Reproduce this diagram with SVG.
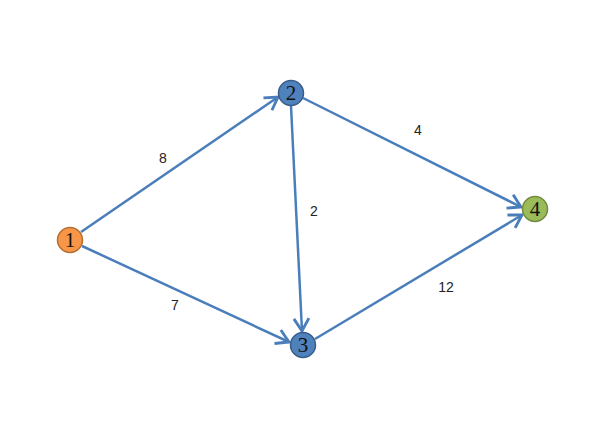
<svg xmlns="http://www.w3.org/2000/svg" width="606" height="429" viewBox="0 0 606 429">
<defs>
<marker id="arr" markerUnits="userSpaceOnUse" markerWidth="20" markerHeight="20" viewBox="-12 -8 14 16" refX="0" refY="0" orient="auto">
<path d="M-10,-6 L0,0 L-10,6" fill="none" stroke="#4a7ebb" stroke-width="2.3" stroke-linejoin="miter"/>
</marker>
</defs>
<style>
.e{stroke:#4a7ebb;stroke-width:2.5;fill:none;marker-end:url(#arr)}
.el{font-family:"Liberation Sans",Arial,sans-serif;font-size:14px;fill:#222;text-anchor:middle}
.nt{font-family:"Liberation Serif","Times New Roman",serif;font-size:21px;fill:#111;text-anchor:middle}
.blue{fill:#4f81bd;stroke:#385d8a;stroke-width:1.5}
.orange{fill:#f79646;stroke:#b66d31;stroke-width:1.5}
.green{fill:#9bbb59;stroke:#71893f;stroke-width:1.5}
</style>
<rect width="606" height="429" fill="#ffffff"/>
<g id="edges">
<line class="e" x1="81" y1="232" x2="278" y2="97"/>
<line class="e" x1="82" y1="246" x2="289" y2="342"/>
<line class="e" x1="291" y1="106" x2="302" y2="331"/>
<line class="e" x1="303" y1="98" x2="521" y2="207"/>
<line class="e" x1="315" y1="339" x2="522" y2="215"/>
<text class="el" x="163" y="163">8</text>
<text class="el" x="418" y="135">4</text>
<text class="el" x="314" y="216">2</text>
<text class="el" x="175" y="310">7</text>
<text class="el" x="446" y="292">12</text>
</g>
<g id="n1"><circle class="orange" cx="70" cy="240" r="12.5"/><text class="nt" x="70" y="247">1</text></g>
<g id="n2"><circle class="blue" cx="291" cy="93" r="12.5"/><text class="nt" x="291" y="100">2</text></g>
<g id="n3"><circle class="blue" cx="303" cy="345" r="12.5"/><text class="nt" x="303" y="352">3</text></g>
<g id="n4"><circle class="green" cx="535" cy="209" r="12.5"/><text class="nt" x="535" y="216">4</text></g>
</svg>
